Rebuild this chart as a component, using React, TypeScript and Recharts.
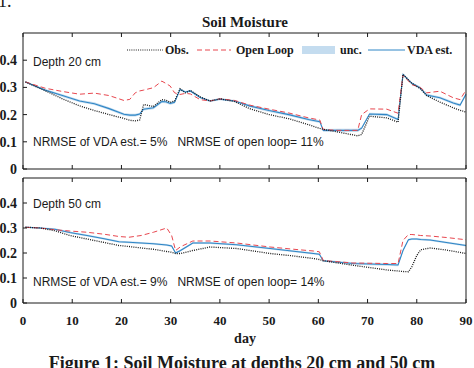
import { ComposedChart, Line, Area, XAxis, YAxis, Legend } from 'recharts'

// depth 20 cm panel
const days20 = [0.5, 4.5, 8, 11.5, 14.5, 17.5, 20.5, 21.7, 22.8, 23.7, 24.5, 26.5, 28.2, 29, 29.9, 30.8, 31.9, 33, 34, 36, 38, 40, 43, 46, 50, 54, 58, 60.3, 61, 64, 68, 68.8, 70.4, 73.9, 76.2, 77.2, 79, 80.7, 82, 84.7, 87.4, 88.8, 90]
const obs20 = [0.32, 0.288, 0.258, 0.232, 0.215, 0.2, 0.186, 0.179, 0.177, 0.18, 0.237, 0.23, 0.255, 0.253, 0.245, 0.25, 0.295, 0.28, 0.289, 0.265, 0.25, 0.258, 0.248, 0.222, 0.2, 0.185, 0.163, 0.149, 0.146, 0.136, 0.122, 0.127, 0.194, 0.188, 0.172, 0.348, 0.315, 0.296, 0.27, 0.246, 0.225, 0.216, 0.209]
const open20 = [0.32, 0.297, 0.285, 0.275, 0.279, 0.27, 0.252, 0.256, 0.28, 0.287, 0.29, 0.299, 0.323, 0.315, 0.305, 0.28, 0.274, 0.278, 0.276, 0.255, 0.25, 0.258, 0.252, 0.235, 0.22, 0.206, 0.188, 0.18, 0.145, 0.142, 0.142, 0.2, 0.221, 0.22, 0.205, 0.345, 0.31, 0.3, 0.28, 0.286, 0.262, 0.255, 0.29]
const vda20 = [0.32, 0.29, 0.27, 0.25, 0.24, 0.222, 0.201, 0.198, 0.198, 0.202, 0.22, 0.225, 0.248, 0.247, 0.241, 0.245, 0.292, 0.283, 0.287, 0.263, 0.25, 0.257, 0.25, 0.232, 0.215, 0.2, 0.182, 0.174, 0.142, 0.142, 0.142, 0.15, 0.202, 0.2, 0.182, 0.348, 0.315, 0.298, 0.272, 0.262, 0.243, 0.235, 0.275]
const uncLo20 = [0.317, 0.286, 0.265, 0.245, 0.235, 0.217, 0.196, 0.193, 0.193, 0.197, 0.215, 0.22, 0.243, 0.242, 0.236, 0.24, 0.288, 0.279, 0.283, 0.259, 0.246, 0.253, 0.246, 0.227, 0.21, 0.195, 0.177, 0.169, 0.137, 0.136, 0.136, 0.145, 0.197, 0.195, 0.177, 0.344, 0.311, 0.293, 0.267, 0.257, 0.238, 0.23, 0.27]
const uncHi20 = [0.323, 0.294, 0.275, 0.255, 0.245, 0.227, 0.206, 0.203, 0.203, 0.207, 0.225, 0.23, 0.253, 0.252, 0.246, 0.25, 0.296, 0.287, 0.291, 0.267, 0.254, 0.261, 0.254, 0.237, 0.22, 0.205, 0.187, 0.179, 0.147, 0.148, 0.148, 0.155, 0.207, 0.205, 0.187, 0.352, 0.319, 0.303, 0.277, 0.267, 0.248, 0.24, 0.28]

// depth 50 cm panel
const days50 = [0.5, 3.5, 6.5, 9.5, 13, 16.5, 19.5, 21.5, 24, 26.5, 29.2, 30.2, 31, 32, 34.5, 38, 43.4, 50.2, 55, 59, 60.2, 61, 67, 74, 76.2, 77.2, 78.3, 79, 80, 80.8, 82.7, 86, 90]
const obs50 = [0.303, 0.3, 0.289, 0.27, 0.256, 0.242, 0.23, 0.226, 0.22, 0.215, 0.206, 0.203, 0.198, 0.198, 0.21, 0.224, 0.218, 0.198, 0.188, 0.178, 0.174, 0.169, 0.151, 0.132, 0.128, 0.126, 0.125, 0.145, 0.19, 0.213, 0.22, 0.212, 0.198]
const open50 = [0.303, 0.3, 0.293, 0.288, 0.283, 0.275, 0.266, 0.263, 0.27, 0.283, 0.3, 0.27, 0.21, 0.225, 0.248, 0.248, 0.24, 0.224, 0.215, 0.208, 0.205, 0.17, 0.16, 0.158, 0.158, 0.25, 0.274, 0.274, 0.272, 0.27, 0.268, 0.262, 0.253]
const vda50 = [0.303, 0.3, 0.295, 0.282, 0.27, 0.257, 0.245, 0.243, 0.24, 0.237, 0.232, 0.228, 0.2, 0.21, 0.24, 0.24, 0.233, 0.218, 0.207, 0.198, 0.195, 0.169, 0.158, 0.154, 0.152, 0.21, 0.253, 0.256, 0.256, 0.254, 0.252, 0.242, 0.23]
const uncLo50 = [0.3, 0.297, 0.291, 0.278, 0.266, 0.253, 0.241, 0.239, 0.236, 0.233, 0.228, 0.224, 0.196, 0.206, 0.236, 0.236, 0.229, 0.214, 0.203, 0.194, 0.191, 0.165, 0.153, 0.149, 0.147, 0.205, 0.249, 0.252, 0.252, 0.25, 0.248, 0.238, 0.226]
const uncHi50 = [0.306, 0.303, 0.299, 0.286, 0.274, 0.261, 0.249, 0.247, 0.244, 0.241, 0.236, 0.232, 0.204, 0.214, 0.244, 0.244, 0.237, 0.222, 0.211, 0.202, 0.199, 0.173, 0.163, 0.159, 0.157, 0.215, 0.257, 0.26, 0.26, 0.258, 0.256, 0.246, 0.234]

const dayTicks = [0, 10, 20, 30, 40, 50, 60, 70, 80, 90]
const smTicks = [0, 0.1, 0.2, 0.3, 0.4]

const rows = (days: number[], obs: number[], open: number[], vda: number[], lo: number[], hi: number[]) =>
  days.map((day, i) => ({ day, obs: obs[i], open: open[i], vda: vda[i], unc: [lo[i], hi[i]] }))

const data20 = rows(days20, obs20, open20, vda20, uncLo20, uncHi20)
const data50 = rows(days50, obs50, open50, vda50, uncLo50, uncHi50)

const SERIF = '"Liberation Serif", "Times New Roman", serif'
const SANS = '"Liberation Sans", Arial, sans-serif'
const INK = '#1a1a1a'
const RED = '#e8474f'
const BLUE = '#2f86c6'
const BAND = '#c4dcef'

const fmt = (v: number) => (v === 0 ? '0' : v.toFixed(1))

const BottomTick = ({ x, y, payload, labels }: any) => (
  <g>
    <line x1={x} y1={y} x2={x} y2={y - 4} stroke={INK} />
    {labels && (
      <text x={x} y={y + 22} textAnchor="middle" fontFamily={SERIF} fontWeight="bold" fontSize={13} fill={INK}>
        {payload.value}
      </text>
    )}
  </g>
)

const TopTick = ({ x, y }: any) => <line x1={x} y1={y} x2={x} y2={y + 4} stroke={INK} />

const LeftTick = ({ x, y, payload }: any) => (
  <g>
    <line x1={x} y1={y} x2={x + 4} y2={y} stroke={INK} />
    <text x={x - 6} y={y} dy="0.35em" textAnchor="end" fontFamily={SERIF} fontWeight="bold" fontSize={14} fill={INK}>
      {fmt(payload.value)}
    </text>
  </g>
)

const RightTick = ({ x, y }: any) => <line x1={x} y1={y} x2={x - 4} y2={y} stroke={INK} />

const LegendBox = () => (
  <svg width={345} height={16} style={{ display: 'block' }}>
    <g fontFamily={SERIF} fontWeight="bold" fontSize={12} fill={INK}>
      <line x1={7} y1={8} x2={43} y2={8} stroke={INK} strokeWidth={1.2} strokeDasharray="1 1.2" />
      <text x={45} y={12}>Obs.</text>
      <line x1={77} y1={8} x2={111} y2={8} stroke={RED} strokeDasharray="5 3" />
      <text x={116} y={12}>Open Loop</text>
      <rect x={182} y={4} width={33} height={8} fill={BAND} />
      <text x={220} y={12}>unc.</text>
      <line x1={248} y1={8} x2={285} y2={8} stroke={BLUE} />
      <text x={287} y={12}>VDA est.</text>
    </g>
  </svg>
)

interface PanelProps {
  data: any[]
  height: number
  margin: { top: number; right: number; bottom: number; left: number }
  bottomHeight: number
  labels: boolean
  legend?: boolean
}

function Panel({ data, height, margin, bottomHeight, labels, legend }: PanelProps) {
  return (
    <ComposedChart width={474} height={height} data={data} margin={margin}>
      <XAxis
        dataKey="day"
        type="number"
        domain={[0, 90]}
        ticks={dayTicks}
        height={bottomHeight}
        tickSize={0}
        tickMargin={0}
        tickLine={false}
        axisLine={{ stroke: INK }}
        tick={(p: any) => <BottomTick {...p} labels={labels} />}
        interval={0}
      />
      <XAxis
        xAxisId="top"
        orientation="top"
        dataKey="day"
        type="number"
        domain={[0, 90]}
        ticks={dayTicks}
        height={5}
        tickSize={0}
        tickMargin={0}
        tickLine={false}
        axisLine={{ stroke: INK }}
        tick={TopTick}
        interval={0}
      />
      <YAxis
        yAxisId="l"
        type="number"
        domain={[0, 0.5]}
        ticks={smTicks}
        width={23}
        tickSize={0}
        tickMargin={0}
        tickLine={false}
        axisLine={{ stroke: INK }}
        tick={LeftTick}
        interval={0}
      />
      <YAxis
        yAxisId="r"
        orientation="right"
        type="number"
        domain={[0, 0.5]}
        ticks={smTicks}
        width={8}
        tickSize={0}
        tickMargin={0}
        tickLine={false}
        axisLine={{ stroke: INK }}
        tick={RightTick}
        interval={0}
      />
      {legend && (
        <Legend
          layout="horizontal"
          verticalAlign="middle"
          align="center"
          content={LegendBox}
          wrapperStyle={{ position: 'absolute', left: 120, top: 42, width: 345, height: 16 }}
        />
      )}
      <Area yAxisId="l" dataKey="unc" type="linear" stroke="none" fill={BAND} fillOpacity={1} isAnimationActive={false} legendType="none" />
      <Line yAxisId="l" dataKey="vda" type="linear" stroke={BLUE} strokeWidth={1.1} dot={false} isAnimationActive={false} />
      <Line yAxisId="l" dataKey="open" type="linear" stroke={RED} strokeWidth={1} strokeDasharray="5 3" dot={false} isAnimationActive={false} />
      <Line yAxisId="l" dataKey="obs" type="linear" stroke={INK} strokeWidth={1.3} strokeDasharray="1 1.2" dot={false} isAnimationActive={false} />
    </ComposedChart>
  )
}

export default function App() {
  return (
    <div style={{ position: 'absolute', left: 0, top: 0, width: 474, height: 368, background: '#fff', overflow: 'hidden' }}>
      <div style={{ position: 'absolute', left: 0, top: 0 }}>
        <Panel data={data20} height={180} margin={{ top: 28, right: 0, bottom: 6, left: 0 }} bottomHeight={5} labels={false} legend />
      </div>
      <div style={{ position: 'absolute', left: 0, top: 170 }}>
        <Panel data={data50} height={198} margin={{ top: 3, right: 0, bottom: 35, left: 0 }} bottomHeight={30} labels />
      </div>
      <svg width={474} height={368} style={{ position: 'absolute', left: 0, top: 0, pointerEvents: 'none' }}>
        <text x={-2} y={7} fontFamily={SERIF} fontSize={18} fill={INK}>1.</text>
        <text x={245} y={27} textAnchor="middle" fontFamily={SERIF} fontWeight="bold" fontSize={15} fill={INK}>Soil Moisture</text>
        <g fontFamily={SANS} fontSize={12} fill={INK}>
          <text x={33} y={66}>Depth 20 cm</text>
          <text x={33} y={146} xmlSpace="preserve">NRMSE of VDA est.= 5%   NRMSE of open loop= 11%</text>
          <text x={33} y={208}>Depth 50 cm</text>
          <text x={33} y={286} xmlSpace="preserve">NRMSE of VDA est.= 9%   NRMSE of open loop= 14%</text>
        </g>
        <text x={245} y={343} textAnchor="middle" fontFamily={SERIF} fontWeight="bold" fontSize={14} fill={INK}>day</text>
        <text x={242} y={369} textAnchor="middle" fontFamily={SERIF} fontWeight="bold" fontSize={18} fill={INK}>Figure 1: Soil Moisture at depths 20 cm and 50 cm</text>
      </svg>
    </div>
  )
}
